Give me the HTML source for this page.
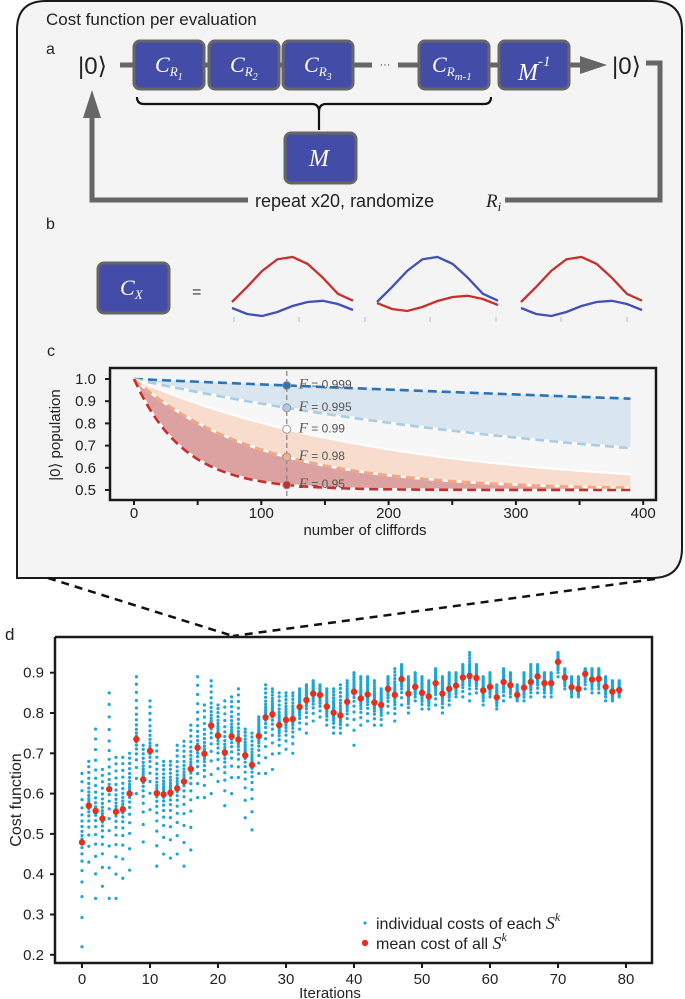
<!DOCTYPE html>
<html><head><meta charset="utf-8"><style>
html,body{margin:0;padding:0;background:#fff;}
svg{display:block;font-family:"Liberation Sans",sans-serif;}
.m{font-family:"Liberation Serif",serif;font-style:italic;fill:#fff;}
</style></head><body>
<svg id="fig" width="685" height="999" viewBox="0 0 685 999" xmlns="http://www.w3.org/2000/svg">
<!-- top box -->
<path d="M17,578 L17,30 Q17,1 46,1 L652,1 Q682,1 682,30 L682,548 Q682,578 652,578 Z" fill="#f4f4f4" stroke="#1a1a1a" stroke-width="2"/>
<text x="46" y="25" font-size="17" fill="#222">Cost function per evaluation</text>
<text x="46" y="54" font-size="16" fill="#222">a</text>
<!-- panel a -->
<g>
<line x1="120" y1="65" x2="372" y2="65" stroke="#666" stroke-width="5"/>
<line x1="398" y1="65" x2="600" y2="65" stroke="#666" stroke-width="5"/>
<text x="385" y="68" font-size="11" fill="#444" text-anchor="middle">···</text>
<polygon points="580,56 607,65 580,74" fill="#666"/>
<text x="78" y="74" font-size="24" fill="#222">|0⟩</text>
<text x="612" y="74" font-size="24" fill="#222">|0⟩</text>
<path d="M646,63 L660,63 L660,200 L505,200" fill="none" stroke="#666" stroke-width="5"/>
<path d="M248,200 L92,200 L92,112" fill="none" stroke="#666" stroke-width="5"/>
<polygon points="83,118 92,90 101,118" fill="#666"/>
<text x="255" y="207" font-size="18" fill="#222">repeat x20, randomize</text>
<text x="486" y="207" font-size="19" font-family="Liberation Serif,serif" font-style="italic" fill="#222">R<tspan font-size="13" dy="4">i</tspan></text>
<g><rect x="134" y="41" width="70" height="48" rx="6" fill="#434ca6" stroke="#666" stroke-width="3"/><text class="m" x="155" y="72" font-size="22">C<tspan font-size="13" dy="4">R</tspan><tspan font-size="10" dy="4">1</tspan></text></g>
<g><rect x="209" y="41" width="70" height="48" rx="6" fill="#434ca6" stroke="#666" stroke-width="3"/><text class="m" x="230" y="72" font-size="22">C<tspan font-size="13" dy="4">R</tspan><tspan font-size="10" dy="4">2</tspan></text></g>
<g><rect x="283" y="41" width="70" height="48" rx="6" fill="#434ca6" stroke="#666" stroke-width="3"/><text class="m" x="304" y="72" font-size="22">C<tspan font-size="13" dy="4">R</tspan><tspan font-size="10" dy="4">3</tspan></text></g>
<g><rect x="419" y="41" width="70" height="48" rx="6" fill="#434ca6" stroke="#666" stroke-width="3"/><text class="m" x="432" y="72" font-size="22">C<tspan font-size="13" dy="4">R</tspan><tspan font-size="11" dy="4">m-1</tspan></text></g>
<g><rect x="499" y="41" width="70" height="48" rx="6" fill="#434ca6" stroke="#666" stroke-width="3"/><text class="m" x="518" y="80" font-size="24">M<tspan font-size="15" dy="-14">-1</tspan></text></g>
<path d="M137,97 Q137,104 144,104 L312,104 Q319,104 319,112 L319,130 M319,112 Q319,104 326,104 L484,104 Q491,104 491,97" fill="none" stroke="#111" stroke-width="2.2"/>
<g><rect x="285" y="133" width="71" height="50" rx="6" fill="#434ca6" stroke="#666" stroke-width="3"/><text class="m" x="309" y="166" font-size="24">M</text></g>
</g>
<!-- panel b -->
<text x="46" y="229" font-size="16" fill="#222">b</text>
<g>
<rect x="98" y="263" width="71" height="50" rx="6" fill="#434ca6" stroke="#666" stroke-width="3"/>
<text class="m" x="120" y="295" font-size="22">C<tspan font-size="13" dy="4">X</tspan></text>
<text x="192" y="297" font-size="16" fill="#333">=</text>
<g id="pulses"></g>
</g>
<!-- panel c -->
<text x="47" y="356" font-size="16" fill="#222">c</text>
<g id="chartc"></g>
<!-- connectors -->
<g>
<line x1="48" y1="578" x2="233" y2="636" stroke="#111" stroke-width="2.5" stroke-dasharray="8,6"/>
<line x1="655" y1="579" x2="233" y2="636" stroke="#111" stroke-width="2.5" stroke-dasharray="8,6"/>
<line x1="233" y1="636" x2="233" y2="654" stroke="#111" stroke-width="2.5" stroke-dasharray="6,4"/>
<polygon points="226,653 240,653 233,682" fill="#111"/>
</g>
<text x="5" y="640" font-size="17" fill="#222">d</text>
<g id="chartd"></g>
</svg>
<script>
const NS="http://www.w3.org/2000/svg";
function mk(tag,attrs,parent){const e=document.createElementNS(NS,tag);for(const k in attrs)e.setAttribute(k,attrs[k]);parent.appendChild(e);return e;}

// ---------- panel b pulses (shape samples) ----------
const pulseBump=[0,0.35,0.7,0.95,1,0.85,0.55,0.2,0.05];
const pulseLow=[0.1,-0.05,-0.1,0,0.15,0.25,0.28,0.2,0.05];
const pulsePanels=[[232,"#c8302c","#4250b8"],[377,"#4250b8","#c8302c"],[521,"#c8302c","#4250b8"]];
const pg=document.getElementById('pulses');
pulsePanels.forEach((p,pi)=>{
  const x0=p[0],w=121,base=303;
  const bump=pulseBump.map((v,i)=>(x0+i*w/8)+','+(base-v*46+ (i==0?-1:0))).join(' ');
  const lowArr=pi==1?pulseLow.map(v=>-v):pulseLow.map(v=>v);
  const low=lowArr.map((v,i)=>(x0+i*w/8)+','+(pi==1?base+4+v*40:base+9-v*40)).join(' ');
  const a=mk('polyline',{points:bump,fill:'none',stroke:p[1],'stroke-width':2.3},pg);
  
  
  const b=mk('polyline',{points:low,fill:'none',stroke:p[2],'stroke-width':2.3},pg);
  
  
});
[234,299,365,430,496,561,627].forEach(x=>mk('line',{x1:x,y1:317,x2:x,y2:322,stroke:'#bbb','stroke-width':1},pg));

// ---------- panel c ----------
const fidelities=[0.999,0.995,0.99,0.98,0.95];
const fidLabels=["0.999","0.995","0.99","0.98","0.95"];
const cXTicks=[0,100,200,300,400];
const cYTicks=[1.0,0.9,0.8,0.7,0.6,0.5];
const cMarkAt=120, cMaxM=390;
const cg=document.getElementById('chartc');
const cx=m=>134+m*1.273, cy=v=>379+(1-v)*222;
const pop=(F,m)=>0.5+0.5*Math.pow(F,m/2);
const ms=[];for(let m=0;m<=cMaxM;m+=5)ms.push(m);
const pts=F=>ms.map(m=>[cx(m),cy(pop(F,m))]);
const band=(F1,F2,col,name)=>{const a=pts(F1),b=pts(F2).reverse();const e=mk('polygon',{points:a.concat(b).map(p=>p.join(',')).join(' '),fill:col},cg);
  
  };
mk('rect',{x:110,y:368,width:546,height:132,fill:'#f5f5f5'},cg);
band(fidelities[0],fidelities[1],'#dae6ef','band-999-995');
band(fidelities[1],fidelities[2],'#f7f7f7','band-995-99');
band(fidelities[2],fidelities[3],'#f8dccd','band-99-98');
band(fidelities[3],fidelities[4],'#dca1a1','band-98-95');
const lineStyles=[['#2c74b5',false],['#a8cde5',true],['#ffffff',null],['#f4a77f',true],['#c6302b',true]];
fidelities.forEach((F,i)=>{
  const d=pts(F).map(p=>p.join(',')).join(' ');
  const st=lineStyles[i];
  if(st[1]===null){const e=mk('polyline',{points:d,fill:'none',stroke:'#fff','stroke-width':2},cg);
    
    return;}
  if(st[1])mk('polyline',{points:d,fill:'none',stroke:'#fff','stroke-width':2.5},cg);
  const e=mk('polyline',{points:d,fill:'none',stroke:st[0],'stroke-width':2.6,'stroke-dasharray':'9,5'},cg);
  
  
});
mk('line',{x1:cx(cMarkAt),y1:371,x2:cx(cMarkAt),y2:497,stroke:'#888','stroke-width':1.3,'stroke-dasharray':'5,3'},cg);
const markerFill=['#2c74b5','#a8cde5','#ffffff','#f4b08c','#c6302b'];
fidelities.forEach((F,i)=>{
  const y=cy(pop(F,cMarkAt));
  const c=mk('circle',{cx:cx(cMarkAt),cy:y,r:4,fill:markerFill[i],stroke:'#999','stroke-width':1},cg);
  
  
  const t=mk('text',{x:cx(cMarkAt)+12,y:y+3,'font-size':12,fill:'#555'},cg);
  t.innerHTML='<tspan font-family="Liberation Serif,serif" font-style="italic" font-size="15">F</tspan> = '+fidLabels[i];
  
  
});
mk('rect',{x:110,y:368,width:546,height:132,fill:'none',stroke:'#1a1a1a','stroke-width':2.5},cg);
for(let m=0;m<=400;m+=50)mk('line',{x1:cx(m),y1:500,x2:cx(m),y2:505,stroke:'#1a1a1a','stroke-width':2},cg);
cXTicks.forEach(v=>{const t=mk('text',{x:cx(v),y:518,'font-size':15,'text-anchor':'middle',fill:'#222'},cg);t.textContent=v;
  
  });
cYTicks.forEach(v=>{mk('line',{x1:105,y1:cy(v),x2:110,y2:cy(v),stroke:'#1a1a1a','stroke-width':2},cg);
  const t=mk('text',{x:96,y:cy(v)+5,'font-size':15,'text-anchor':'end',fill:'#222'},cg);t.textContent=v.toFixed(1);
  
  });
const cxt=mk('text',{x:365,y:535,'font-size':15,'text-anchor':'middle',fill:'#222'},cg);cxt.textContent='number of cliffords';


const cyt=mk('text',{x:0,y:0,'font-size':15,'text-anchor':'middle',fill:'#222',transform:'translate(60,435) rotate(-90)'},cg);cyt.textContent='|0⟩ population';



// ---------- panel d ----------
const iterMeans=[0.479,0.570,0.557,0.538,0.611,0.555,0.561,0.600,0.735,0.635,0.706,0.601,0.598,0.602,0.613,0.630,0.661,0.714,0.699,0.769,0.744,0.702,0.742,0.734,0.695,0.671,0.743,0.789,0.797,0.770,0.783,0.785,0.815,0.832,0.848,0.845,0.816,0.801,0.794,0.828,0.853,0.836,0.846,0.826,0.820,0.860,0.845,0.884,0.848,0.865,0.850,0.841,0.874,0.848,0.860,0.868,0.888,0.892,0.887,0.856,0.865,0.839,0.877,0.869,0.845,0.863,0.877,0.891,0.874,0.874,0.927,0.888,0.864,0.860,0.897,0.883,0.885,0.865,0.853,0.857];
const iterLow=[0.22,0.43,0.34,0.37,0.34,0.34,0.39,0.41,0.60,0.48,0.56,0.42,0.45,0.44,0.45,0.42,0.46,0.59,0.59,0.60,0.63,0.57,0.60,0.64,0.54,0.51,0.65,0.65,0.66,0.70,0.71,0.70,0.76,0.75,0.78,0.79,0.77,0.75,0.75,0.77,0.72,0.77,0.78,0.77,0.77,0.80,0.78,0.82,0.80,0.83,0.81,0.81,0.82,0.80,0.82,0.84,0.84,0.83,0.85,0.82,0.84,0.81,0.83,0.84,0.83,0.83,0.84,0.85,0.84,0.84,0.89,0.86,0.84,0.84,0.86,0.85,0.85,0.83,0.83,0.84];
const iterHigh=[0.65,0.68,0.76,0.66,0.85,0.69,0.69,0.70,0.89,0.72,0.83,0.72,0.68,0.68,0.72,0.73,0.77,0.89,0.82,0.88,0.82,0.83,0.84,0.86,0.76,0.75,0.79,0.87,0.86,0.85,0.85,0.85,0.86,0.87,0.88,0.87,0.86,0.86,0.87,0.88,0.90,0.89,0.89,0.88,0.86,0.89,0.91,0.92,0.89,0.90,0.89,0.88,0.91,0.89,0.90,0.90,0.92,0.95,0.92,0.89,0.90,0.87,0.91,0.90,0.87,0.90,0.92,0.92,0.90,0.90,0.95,0.91,0.89,0.89,0.91,0.91,0.91,0.89,0.88,0.88];
const dXTicks=[0,10,20,30,40,50,60,70,80];
const dYTicks=[0.2,0.3,0.4,0.5,0.6,0.7,0.8,0.9];
const spreadPattern=[-1,-0.72,-0.52,-0.38,-0.27,-0.18,-0.11,-0.05,0,0.05,0.1,0.16,0.23,0.31,0.4,0.5,0.62,0.75,0.88,1];
const dg=document.getElementById('chartd');
const dx=i=>82+i*6.8, dy=v=>672.7+(0.9-v)*403;
mk('rect',{x:55,y:637,width:597,height:326,fill:'#fff'},dg);
iterMeans.forEach((mu,i)=>{
  spreadPattern.forEach(q=>{
    const v=q<0?mu+q*(mu-iterLow[i]):mu+q*(iterHigh[i]-mu);
    const c=mk('circle',{cx:dx(i),cy:dy(v),r:1.6,fill:'#1ba6d9'},dg);
    
    
  });
});
iterMeans.forEach((mu,i)=>{
  const c=mk('circle',{cx:dx(i),cy:dy(mu),r:3.2,fill:'#e2311f'},dg);
  
  
});
mk('polyline',{points:'55,637 652,637 652,963 55,963 55,637',fill:'none',stroke:'#1a1a1a','stroke-width':2.5},dg);
dXTicks.forEach(v=>{mk('line',{x1:dx(v),y1:963,x2:dx(v),y2:968,stroke:'#1a1a1a','stroke-width':2},dg);
  const t=mk('text',{x:dx(v),y:984,'font-size':15,'text-anchor':'middle',fill:'#222'},dg);t.textContent=v;
  
  });
dYTicks.forEach(v=>{mk('line',{x1:50,y1:dy(v),x2:55,y2:dy(v),stroke:'#1a1a1a','stroke-width':2},dg);
  const t=mk('text',{x:44,y:dy(v)+5,'font-size':15,'text-anchor':'end',fill:'#222'},dg);t.textContent=v.toFixed(1);
  
  });
const dxt=mk('text',{x:330,y:998,'font-size':15,'text-anchor':'middle',fill:'#222'},dg);dxt.textContent='Iterations';


const dyt=mk('text',{x:0,y:0,'font-size':16,'text-anchor':'middle',fill:'#222',transform:'translate(21,800) rotate(-90)'},dg);dyt.textContent='Cost function';


const l1=mk('g',{},dg);


mk('circle',{cx:365,cy:923,r:1.6,fill:'#1ba6d9'},l1);
mk('text',{x:376,y:929,'font-size':16,fill:'#222'},l1).innerHTML='individual costs of each <tspan font-family="Liberation Serif,serif" font-style="italic" font-size="18">S</tspan><tspan font-family="Liberation Serif,serif" font-style="italic" font-size="12" dy="-8">k</tspan>';
const l2=mk('g',{},dg);


mk('circle',{cx:365,cy:943,r:3.2,fill:'#e2311f'},l2);
mk('text',{x:376,y:949,'font-size':16,fill:'#222'},l2).innerHTML='mean cost of all <tspan font-family="Liberation Serif,serif" font-style="italic" font-size="18">S</tspan><tspan font-family="Liberation Serif,serif" font-style="italic" font-size="12" dy="-8">k</tspan>';
</script>
</body></html>
